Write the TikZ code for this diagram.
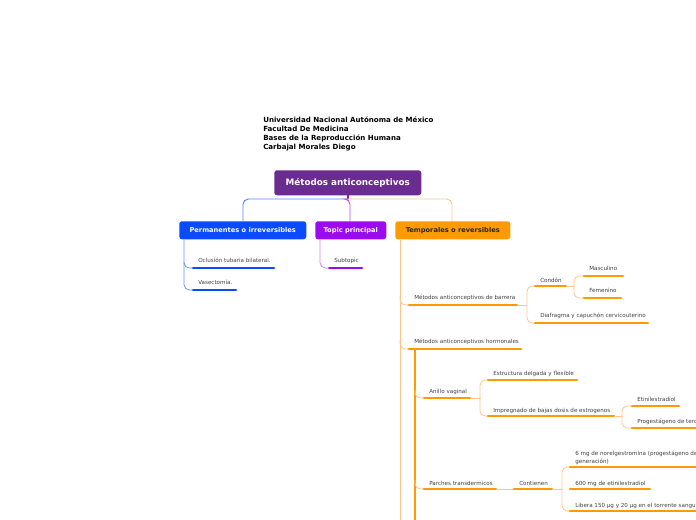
\documentclass[tikz,border=0pt]{standalone}
\usepackage{fontspec}
\setmainfont{DejaVu Sans}
\begin{document}
\begin{tikzpicture}[x=0.75pt,y=-0.75pt,
  lbl/.style={anchor=base west,inner sep=0pt,font=\fontsize{4.2}{5}\selectfont,text=black!75},
  hdr/.style={anchor=base west,inner sep=0pt,font=\bfseries\fontsize{5.3}{6}\selectfont},
  ulo/.style={line width=2.2pt,draw=orA,line cap=round},
  ulb/.style={line width=2.2pt,draw=blueA,line cap=round},
  ulp/.style={line width=2.2pt,draw=purpA,line cap=round},
  co/.style={draw=orange!45,line width=0.6pt,rounded corners=4pt},
  box/.style={rounded corners=2pt,anchor=north west,inner sep=0pt,font=\bfseries\fontsize{5}{6}\selectfont}]
\definecolor{blueA}{HTML}{0A4BFF}
\definecolor{purpA}{HTML}{9B0AF0}
\definecolor{rootC}{HTML}{6A2C8E}
\definecolor{orA}{HTML}{FF9A00}
\useasboundingbox (0,0) rectangle (696,520);
\clip (0,0) rectangle (696,520);
% header
\node[hdr] (h1) at (263,123) {Universidad Nacional Autónoma de México};
\node[hdr] (h2) at (263,132) {Facultad De Medicina};
\node[hdr] (h3) at (263,141) {Bases de la Reproducción Humana};
\node[hdr] (h4) at (263,149.5) {Carbajal Morales Diego};
% root and main boxes
\node[box,fill=rootC,text=white,minimum width=147*0.75pt,minimum height=25*0.75pt,font=\bfseries\fontsize{6.6}{8}\selectfont] (root) at (274,170) {Métodos anticonceptivos};
\node[box,fill=blueA,text=white,minimum width=127*0.75pt,minimum height=18*0.75pt] (perm) at (179,221) {Permanentes o irreversibles};
\node[box,fill=purpA,text=white,minimum width=71*0.75pt,minimum height=18*0.75pt] (topic) at (315,221) {Topic principal};
\node[box,fill=orA,text=black!85,minimum width=115*0.75pt,minimum height=18*0.75pt] (temp) at (395,221) {Temporales o reversibles};
\draw[draw=rootC!60!red,line width=0.8pt] (348,195) -- (348,199);
\draw[blueA!70,line width=0.7pt,rounded corners=4pt] (348,199) -- (243,199) -- (perm.north -| 243,0);
\draw[purpA!70,line width=0.7pt,rounded corners=4pt] (348,199) -- (350,199) -- (topic.north -| 350,0);
\draw[orange!45,line width=0.7pt,rounded corners=4pt] (348,199) -- (452,199) -- (temp.north -| 452,0);
% blue
\node[lbl] (ocl) at (198,263) {Oclusión tubaria bilateral.};
\draw[ulb] (193,268) -- (274,268);
\node[lbl] (vas) at (198,285) {Vasectomía.};
\draw[ulb] (193,290) -- (236,290);
\draw[blueA!60,line width=0.6pt,rounded corners=4pt] (perm.south -| 184,0) -- (184,268) -- (193,268);
\draw[blueA!60,line width=0.6pt,rounded corners=4pt] (184,262) -- (184,290) -- (193,290);
% purple
\node[lbl] (sub) at (334,263) {Subtopic};
\draw[ulp] (329,268) -- (362,268);
\draw[purpA!50,line width=0.6pt,rounded corners=4pt] (topic.south -| 320,0) -- (320,268) -- (329,268);
% orange trunk
\draw[co] (temp.south -| 400,0) -- (400,520);
\draw[co] (400,296) -- (400,305) -- (409,305);
\draw[co] (400,340) -- (400,349) -- (409,349);
\node[lbl] (bar) at (414,300) {Métodos anticonceptivos de barrera};
\draw[ulo] (409,305) -- (517,305);
\draw[co] (517,305) -- (527,305);
\draw[co] (527,300) -- (527,286) -- (535,286);
\draw[co] (527,300) -- (527,323) -- (535,323);
\node[lbl] (con) at (540,282) {Condón};
\draw[ulo] (535,286) -- (566,286);
\draw[co] (566,286) -- (574,286);
\draw[co] (574,287) -- (574,276) -- (584,276);
\draw[co] (574,285) -- (574,298) -- (584,298);
\node[lbl] (mas) at (589,271) {Masculino};
\draw[ulo] (584,276) -- (623,276);
\node[lbl] (fem) at (589,293) {Femenino};
\draw[ulo] (584,298) -- (621,298);
\node[lbl] (dia) at (540,318) {Diafragma y capuchón cervicouterino};
\draw[ulo] (535,323) -- (648,323);
% hormonales
\node[lbl] (hor) at (414,344) {Métodos anticonceptivos hormonales};
\draw[ulo] (409,349) -- (521,349);
\draw[draw=orA,line width=1pt] (415,349) -- (415,520);
\draw[co] (415,390) -- (415,398) -- (424,398);
\draw[co] (415,480) -- (415,489) -- (424,489);
\node[lbl] (ani) at (429,393) {Anillo vaginal};
\draw[ulo] (424,398) -- (470,398);
\draw[co] (470,398) -- (480,398);
\draw[co] (480,399) -- (480,380) -- (488,380);
\draw[co] (480,397) -- (480,416) -- (488,416);
\node[lbl] (est) at (493,375) {Estructura delgada y flexible};
\draw[ulo] (488,380) -- (577,380);
\node[lbl] (imp) at (493,412) {Impregnado de bajas dosis de estrogenos};
\draw[ulo] (488,416) -- (614,416);
\draw[co] (614,416) -- (622,416);
\draw[co] (622,417) -- (622,406) -- (632,406);
\draw[co] (622,415) -- (622,428) -- (632,428);
\node[lbl] (eti) at (637,401) {Etinilestradiol};
\draw[ulo] (632,406) -- (679,406);
\node[lbl] (pro) at (637,423) {Progestágeno de tercera generación};
\draw[ulo] (632,428) -- (700,428);
% parches
\node[lbl] (par) at (429,485) {Parches transdermicos};
\draw[ulo] (424,489) -- (496,489);
\draw[co] (496,489) -- (514,489);
\node[lbl] (cont) at (519,485) {Contienen};
\draw[ulo] (514,489) -- (552,489);
\draw[co] (552,489) -- (562,489);
\draw[co] (562,490) -- (562,467) -- (570,467);
\draw[co] (562,488) -- (562,511) -- (570,511);
\node[lbl] (mg6) at (575,455) {6 mg de norelgestromina (progestágeno de tercera};
\node[lbl] (mg6b) at (575,463) {generación)};
\draw[ulo] (570,467) -- (700,467);
\node[lbl] (mg600) at (575,485) {600 mg de etinilestradiol};
\draw[ulo] (570,489) -- (650,489);
\node[lbl] (lib) at (575,507) {Libera 150 µg y 20 µg en el torrente sanguíneo};
\draw[ulo] (570,511) -- (700,511);
\end{tikzpicture}
\end{document}
